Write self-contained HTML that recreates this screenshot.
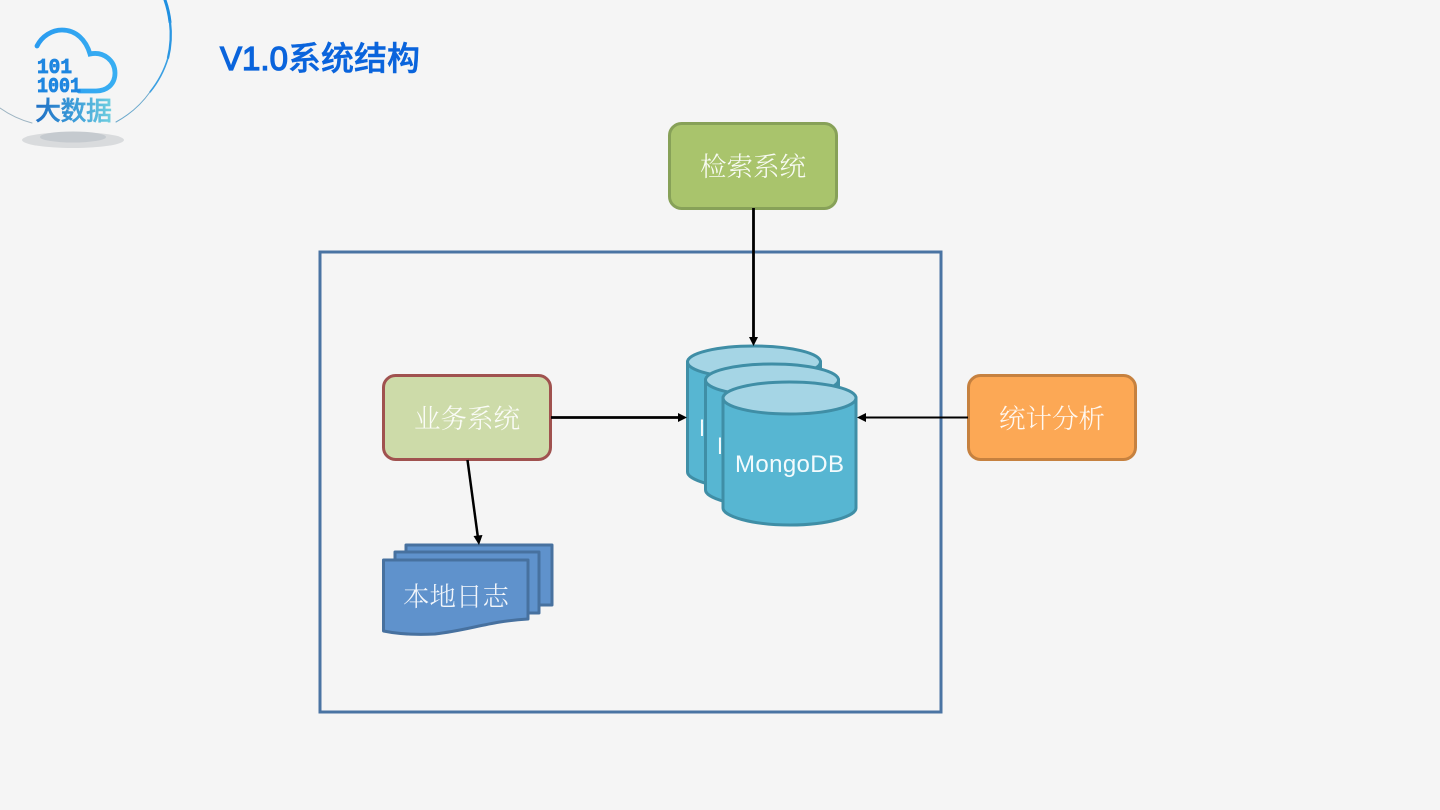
<!DOCTYPE html>
<html><head><meta charset="utf-8">
<style>
html,body{margin:0;padding:0;background:#f5f5f5;width:1440px;height:810px;overflow:hidden}
svg{display:block}
.b{font-family:"Noto Serif CJK SC",serif;font-weight:300;font-size:26.5px;fill:#fff;fill-opacity:.92;text-anchor:middle}
.m{font-family:"Liberation Sans",sans-serif;font-size:24px;fill:#f4fbfd}
</style></head><body>
<svg width="1440" height="810" viewBox="0 0 1440 810" xmlns="http://www.w3.org/2000/svg">
<defs>
<linearGradient id="g" x1="0" x2="1" y1="0" y2="0"><stop offset="0" stop-color="#1f6fc4"/><stop offset=".5" stop-color="#3a9ad8"/><stop offset="1" stop-color="#70d0e0"/></linearGradient>
<linearGradient id="c" x1="0" x2="1" y1="0" y2="0"><stop offset="0" stop-color="#2a9cf0"/><stop offset="1" stop-color="#38aef2"/></linearGradient>
<clipPath id="c1"><rect x="690" y="410" width="13" height="30"/></clipPath>
<clipPath id="c2"><rect x="708" y="428" width="13" height="30"/></clipPath>
</defs>
<rect width="1440" height="810" fill="#f5f5f5"/>

<!-- logo -->
<ellipse cx="73" cy="140" rx="51" ry="8" fill="#d9dbdd"/>
<ellipse cx="73" cy="137" rx="33" ry="5.500" fill="#c5cacf"/>
<g fill="none" stroke-linecap="round">
<path d="M165,0 A100,100 0 0 1 170,22" stroke="#1f8fe0" stroke-width="3"/>
<path d="M170,22 A100,100 0 0 1 168,58" stroke="#2a96e2" stroke-width="2.300"/>
<path d="M168,58 A100,100 0 0 1 150,92" stroke="#3a9fe2" stroke-width="1.600"/>
<path d="M150,92 A100,100 0 0 1 116,122" stroke="#6aa8cc" stroke-width="1"/>
<path d="M0,108 A100,100 0 0 0 32,123" stroke="#9db4c2" stroke-width="1"/>
</g>
<path d="M37,46 C42,36 52,30 62,30 C76,30 86,40 90,54 C104,51 115,61 115,73 C115,85 106,91 96,91 L79,91" fill="none" stroke="url(#c)" stroke-width="4.800" stroke-linecap="round"/>
<text x="37" y="73" font-family="'Liberation Mono',monospace" font-weight="bold" font-size="21" fill="#1f86e0" stroke="#1f86e0" stroke-width=".8" textLength="35" lengthAdjust="spacingAndGlyphs">101</text>
<text x="37" y="92" font-family="'Liberation Mono',monospace" font-weight="bold" font-size="21" fill="#1f86e0" stroke="#1f86e0" stroke-width=".8" textLength="44" lengthAdjust="spacingAndGlyphs">1001</text>
<text x="35" y="120" font-family="'Noto Sans CJK SC',sans-serif" font-weight="500" font-size="26" fill="url(#g)" stroke="url(#g)" stroke-width=".4" textLength="77">大数据</text>

<!-- title -->
<text x="220" y="70" font-size="33" fill="#0a64dc" textLength="200"><tspan font-family="'Liberation Sans',sans-serif" stroke="#0a64dc" stroke-width="1.300">V1.0</tspan><tspan font-family="'Noto Sans CJK SC',sans-serif" font-weight="500" stroke="#0a64dc" stroke-width=".5">系统结构</tspan></text>

<!-- container -->
<rect x="320" y="252" width="621" height="460" fill="none" stroke="#4a74a3" stroke-width="3"/>

<!-- boxes -->
<rect x="669.500" y="123.500" width="167" height="85" rx="12" fill="#a9c46c" stroke="#87a158" stroke-width="3"/>
<text class="b" x="753" y="176">检索系统</text>
<rect x="383.500" y="375.500" width="167" height="84" rx="12" fill="#cddba9" stroke="#a0524f" stroke-width="3"/>
<text class="b" x="467" y="428">业务系统</text>
<rect x="968.500" y="375.500" width="167" height="84" rx="12" fill="#fca855" stroke="#c6813f" stroke-width="3"/>
<text class="b" x="1052" y="428">统计分析</text>

<!-- cylinders -->
<g stroke="#3f8ea6" stroke-width="3">
<path d="M687.500,362 V472 C687.500,480 716,489 754,489 C792,489 820.500,480 820.500,472 V362 Z" fill="#57b6d2"/>
<ellipse cx="754" cy="362" rx="66.500" ry="16" fill="#a5d5e5"/>
</g>
<text class="m" x="699" y="436" clip-path="url(#c1)">MongoDB</text>
<g stroke="#3f8ea6" stroke-width="3">
<path d="M705.500,380 V490 C705.500,498 734,507 772,507 C810,507 838.500,498 838.500,490 V380 Z" fill="#57b6d2"/>
<ellipse cx="772" cy="380" rx="66.500" ry="16" fill="#a5d5e5"/>
</g>
<text class="m" x="717" y="454" clip-path="url(#c2)">MongoDB</text>
<g stroke="#3f8ea6" stroke-width="3">
<path d="M723,398 V508 C723,516 751,525 790,525 C829,525 856,516 856,508 V398 Z" fill="#57b6d2"/>
<ellipse cx="789.500" cy="398" rx="66.500" ry="16" fill="#a5d5e5"/>
</g>
<text class="m" x="735" y="472" textLength="109">MongoDB</text>

<!-- documents -->
<g stroke="#47719f" stroke-width="3" stroke-linejoin="round" fill="#5f92cc">
<rect x="406" y="545" width="146" height="60"/>
<rect x="395" y="552" width="144" height="61"/>
<path d="M383.500,560 H528 V619 C490,621 470,630 435,634 C415,635 398,634 383.500,631 Z"/>
</g>
<text class="b" x="456" y="606">本地日志</text>

<!-- arrows -->
<g stroke="#000" fill="#000">
<line x1="753.500" y1="208" x2="753.500" y2="339" stroke-width="2.800"/>
<path d="M749,337 L758,337 L753.500,346 Z" stroke="none"/>
<line x1="551" y1="417.500" x2="680" y2="417.500" stroke-width="2.800"/>
<path d="M678,413 L687,417.500 L678,422 Z" stroke="none"/>
<line x1="968" y1="417.500" x2="864" y2="417.500" stroke-width="2"/>
<path d="M866,413 L857,417.500 L866,422 Z" stroke="none"/>
<line x1="467.500" y1="460" x2="478" y2="538" stroke-width="2.500"/>
<path d="M473.500,536 L482.500,535 L479,545 Z" stroke="none"/>
</g>
</svg>
</body></html>
